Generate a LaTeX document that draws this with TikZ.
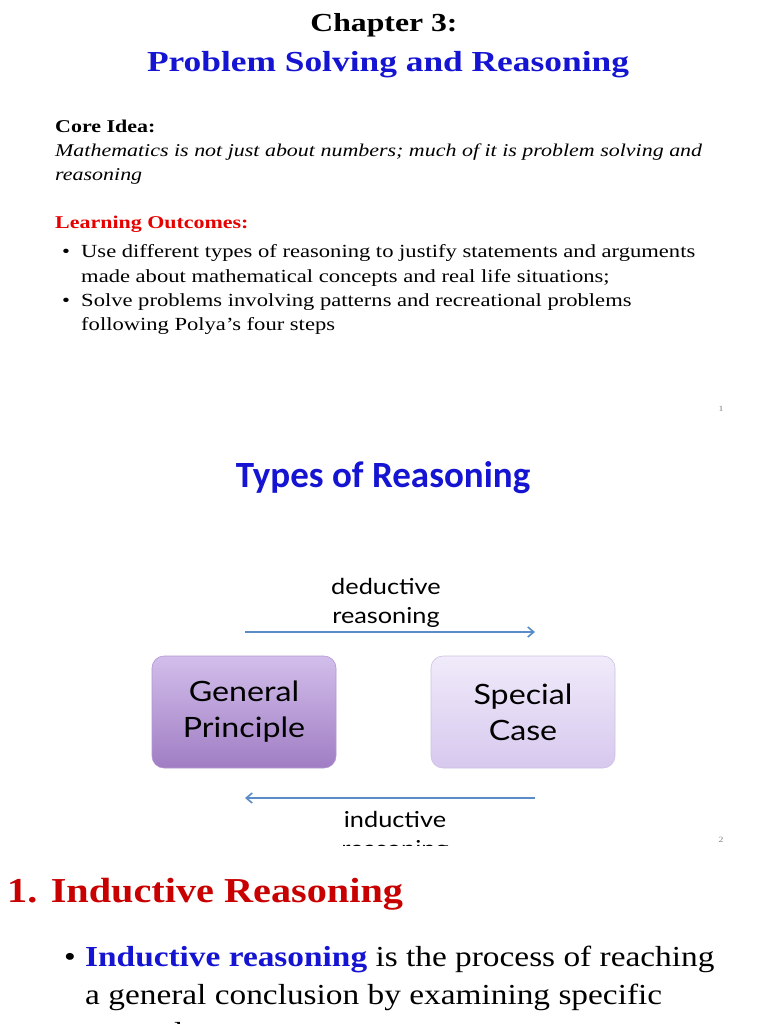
\documentclass[tikz,border=0pt]{standalone}
\usepackage{fontspec}
\setmainfont[FakeStretch=1.22]{Liberation Serif}
\newfontfamily\botfont[FakeStretch=1.15]{Liberation Serif}
\newfontfamily\carfont{Carlito}
\newfontfamily\gill[FakeStretch=1.15]{Lato}
\usetikzlibrary{arrows.meta}
\definecolor{tblue}{RGB}{20,20,210}
\definecolor{tred}{RGB}{230,0,0}
\definecolor{dred}{RGB}{200,0,0}
\definecolor{arr}{RGB}{90,140,200}
\definecolor{pdark}{RGB}{160,125,195}
\definecolor{plight}{RGB}{210,190,235}
\definecolor{sdark}{RGB}{215,200,238}
\definecolor{slight}{RGB}{240,235,250}
\tikzset{
  txt/.style={anchor=base west,inner sep=0pt},
  ctr/.style={anchor=base,inner sep=0pt},
  box/.style={rounded corners=12pt,minimum width=184pt,minimum height=112pt,draw=#1,line width=0.6pt},
  flow/.style={draw=arr,line width=1.6pt,-{Straight Barb[length=6pt,width=10pt]}},
  pg/.style={anchor=base,inner sep=0pt,font=\fontsize{8}{8}\selectfont,text=gray}
}
\begin{document}
\begin{tikzpicture}[x=1pt,y=-1pt]
\useasboundingbox (0,0) rectangle (768,1024);
\fill[white] (0,0) rectangle (768,1024);
\node[ctr,font=\fontsize{26}{26}\selectfont\bfseries] (ch) at (384,32) {Chapter 3:};
\node[ctr,font=\fontsize{29}{29}\selectfont\bfseries,text=tblue] (ti) at (388,72) {Problem Solving and Reasoning};
\node[txt,font=\fontsize{18}{18}\selectfont\bfseries] (ci) at (55,133) {Core Idea:};
\node[txt,font=\fontsize{18}{18}\selectfont\itshape] (c1) at (55,157) {Mathematics is not just about numbers; much of it is problem solving and};
\node[txt,font=\fontsize{18}{18}\selectfont\itshape] (c2) at (55,181) {reasoning};
\node[txt,font=\fontsize{18}{18}\selectfont\bfseries,text=tred] (lo) at (55,229) {Learning Outcomes:};
\begin{scope}[font=\fontsize{18.5}{18.5}\selectfont]
\node[txt] (b1) at (62,258) {•};
\node[txt] (l1) at (81,258) {Use different types of reasoning to justify statements and arguments};
\node[txt] (l2) at (81,282) {made about mathematical concepts and real life situations;};
\node[txt] (b2) at (62,306) {•};
\node[txt] (l3) at (81,306) {Solve problems involving patterns and recreational problems};
\node[txt] (l4) at (81,330) {following Polya’s four steps};
\end{scope}
\node[pg] (p1) at (721,411) {1};
\node[ctr,font=\carfont\fontsize{37}{37}\selectfont\bfseries,text=tblue] (tr) at (383,487) {Types of Reasoning};
\node[ctr,font=\gill\fontsize{22}{22}\selectfont] (d1) at (386,594) {deductive};
\node[ctr,font=\gill\fontsize{22}{22}\selectfont] (d2) at (386,623) {reasoning};
\coordinate (a1) at (245,632);
\coordinate (a2) at (535,632);
\draw[flow] (a1) -- (a2);
\node[box=pdark!80,top color=plight,bottom color=pdark,font=\gill\fontsize{28}{36}\selectfont,align=center] (gp) at (244,712) {General\\Principle};
\node[box=sdark!90!gray,top color=slight,bottom color=sdark,font=\gill\fontsize{28}{36}\selectfont,align=center] (sc) at (523,712) {Special\\Case};
\coordinate (a3) at (535,798);
\coordinate (a4) at (245,798);
\draw[flow] (a3) -- (a4);
\begin{scope}
\clip (0,700) rectangle (768,845);
\node[ctr,font=\gill\fontsize{22}{22}\selectfont] (i1) at (395,827) {inductive};
\node[ctr,font=\gill\fontsize{22}{22}\selectfont] (i2) at (395,856) {reasoning};
\end{scope}
\node[pg] (p2) at (721,842) {2};
\node[txt,font=\botfont\fontsize{35}{35}\selectfont\bfseries,text=dred] (h1) at (7,902) {1. Inductive Reasoning};
\begin{scope}[font=\botfont\fontsize{29}{29}\selectfont]
\node[txt] (b3) at (64,966) {•};
\node[txt] (t1) at (85,966) {\textbf{\textcolor{tblue}{Inductive reasoning}} is the process of reaching};
\node[txt] (t2) at (85,1004) {a general conclusion by examining specific};
\node[txt] (t3) at (85,1042) {examples};
\end{scope}
\end{tikzpicture}
\end{document}
